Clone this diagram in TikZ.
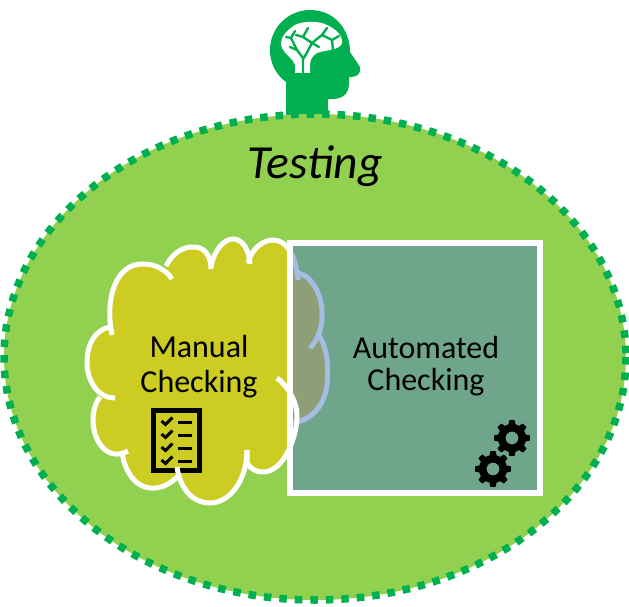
\documentclass[tikz,border=0pt]{standalone}
\usepackage{fontspec}
\setmainfont{Carlito}
\definecolor{grn}{HTML}{00B050}
\definecolor{lime}{HTML}{92D050}
\definecolor{cloudy}{HTML}{CCCC22}
\definecolor{boxt}{HTML}{6FA58A}
\definecolor{overl}{HTML}{8E9F78}
\definecolor{bluel}{HTML}{A5BCE3}
\newcommand{\lobeA}{(112,335) .. controls (104,295) and (118,263) .. (143,264) .. controls (156,264) and (166,270) .. (172,279)}
\newcommand{\lobeB}{(166,266) .. controls (172,254) and (182,247) .. (192,247) .. controls (204,246) and (211,255) .. (211,269)}
\newcommand{\lobeC}{(211,267) .. controls (214,250) and (224,239) .. (233,239) .. controls (243,239) and (249,250) .. (250,264)}
\newcommand{\lobeD}{(248,263) .. controls (251,250) and (262,240) .. (273,240) .. controls (288,240) and (296,258) .. (298,280)}
\newcommand{\lobeE}{(298,273) .. controls (312,276) and (323,295) .. (322,317) .. controls (322,330) and (316,342) .. (310,348)}
\newcommand{\lobeF}{(317,333) .. controls (327,345) and (329,365) .. (327,385) .. controls (324,408) and (310,420) .. (293,423)}
\newcommand{\lobeG}{(277,378) .. controls (290,388) and (298,405) .. (297,418) .. controls (296,440) and (283,472) .. (263,472) .. controls (255,472) and (250,468) .. (247,463) -- (247,450)}
\newcommand{\lobeH}{(247,450) .. controls (247,480) and (230,503) .. (210,503) .. controls (192,503) and (180,488) .. (177,467)}
\newcommand{\lobeI}{(179,475) .. controls (170,485) and (160,489) .. (150,488) .. controls (135,487) and (124,470) .. (122,452)}
\newcommand{\lobeJ}{(128,451) .. controls (108,462) and (93,442) .. (93,420) .. controls (93,410) and (96,402) .. (100,397)}
\newcommand{\lobeK}{(115,398) .. controls (97,398) and (87,380) .. (87,362) .. controls (87,342) and (97,329) .. (110,327)}
\newcommand{\gearat}[3]{% x y r
 \fill[black,even odd rule,shift={(#1,#2)}] plot[domain=0:360,samples=241,smooth] ({#3*min(1,max(0.78,0.89+0.3*cos(8*\x)))*cos(\x)},{#3*min(1,max(0.78,0.89+0.3*cos(8*\x)))*sin(\x)}) -- cycle
  (0,0) circle[radius=0.36*#3];}
\begin{document}
\begin{tikzpicture}[x=1pt,y=-1pt,
  lbl/.style={font=\fontsize{32}{35}\selectfont,align=center,inner sep=0pt,text=black},
  cloudline/.style={white,line width=5pt},
  blueline/.style={bluel,line width=5pt},
  branch/.style={grn,line width=2.4pt,line cap=round,line join=round}]
\useasboundingbox (0,0) rectangle (629,607);
% head
\fill[grn] (286,117) -- (286,82) .. controls (275,74) and (270,62) .. (270,50)
 .. controls (270,28) and (288,10) .. (310,10)
 .. controls (335,10) and (350,30) .. (350,52) -- (360,67) .. controls (361,74) and (358,77) .. (349,77)
 .. controls (350,92) and (346,100) .. (328,99) -- (328,117) -- cycle;
% brain
\fill[white] (295,73) -- (295,65) .. controls (293,58) and (285,55) .. (282,48)
 .. controls (279,40) and (284,33) .. (292,27)
 .. controls (298,21) and (318,20) .. (327,25)
 .. controls (336,29) and (343,36) .. (342,43)
 .. controls (341,50) and (325,50) .. (317,53)
 .. controls (312,56) and (310,60) .. (310,66) -- (310,73) -- cycle;
\draw[branch] (303,73) -- (303,58) -- (297,50) -- (290,47)
 (297,50) -- (291,38) -- (286,37)  (291,38) -- (295,31)
 (304,58) -- (312,43) -- (322,35) -- (332,40) -- (333,50)
 (332,40) -- (339,36) (322,35) -- (327,28)
 (312,43) -- (319,47) (312,43) -- (303,37) -- (296,35)
 (303,37) -- (308,28);
% big ellipse
\fill[lime] (315,357) ellipse [x radius=311, y radius=243];
\draw[grn,line width=7.5pt,dash pattern=on 7.5pt off 8pt] (315,357) ellipse [x radius=311, y radius=243];
\node[lbl,font=\fontsize{47.5}{50}\selectfont\itshape] (testing) at (315,166) {Testing};
% cloud body
\fill[cloudy] \lobeA -- \lobeB -- \lobeC -- \lobeD -- \lobeE -- \lobeF -- \lobeG -- \lobeH -- \lobeI -- \lobeJ -- \lobeK -- cycle;
\fill[cloudy] (112,335) -- (110,327) -- (100,397) -- (122,452) -- cycle;
\draw[cloudline] \lobeA;
\draw[cloudline] \lobeB;
\draw[cloudline] \lobeC;
\draw[cloudline] \lobeD;
\draw[cloudline] \lobeJ;
\draw[cloudline] \lobeK;
% square
\fill[boxt] (290,243) rectangle (540,493);
\begin{scope}
\clip (290,243) rectangle (540,493);
\fill[overl] \lobeD -- \lobeE -- \lobeF -- (290,423) -- (290,243) -- cycle;
\draw[blueline] \lobeD;
\draw[blueline] \lobeE;
\draw[blueline] \lobeF;
\end{scope}
\draw[white,line width=5.5pt] (290,243) rectangle (540,493);
\draw[cloudline] \lobeG;
% labels
\node[lbl,anchor=base] (manual) at (199,392) {Manual\\Checking};
\node[lbl,anchor=base,font=\fontsize{32}{32}\selectfont] (auto) at (426,390) {Automated\\Checking};
% checklist
\draw[black,line width=5pt] (153.5,410.5) rectangle (199.5,470.5);
\foreach \y in {421,434,447,460}{
  \draw[black,line width=3pt] (161.5,\y) -- (165.5,\y+3.5) -- (172.5,\y-3.5);
  \draw[black,line width=3pt] (178,\y+1) -- (192,\y+1);
}
\draw[cloudline] \lobeH;
\draw[cloudline] \lobeI;
% gears
\gearat{512}{438}{18}
\gearat{493}{469}{18}
\end{tikzpicture}
\end{document}
